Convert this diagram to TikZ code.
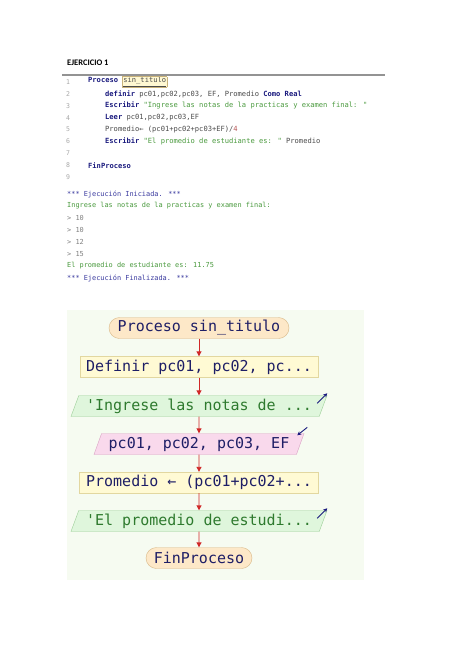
\documentclass[tikz,border=0pt]{standalone}
\usepackage{fontspec}
\newfontfamily\codefont{DejaVu Sans Mono}
\newfontfamily\headfont{Carlito}
\usetikzlibrary{shapes.geometric, arrows.meta, positioning}

\definecolor{kwblue}{HTML}{1A1A7E}
\definecolor{strgreen}{HTML}{4A9A3E}
\definecolor{idgray}{HTML}{4A4A4A}
\definecolor{numgray}{HTML}{A8A8A8}
\definecolor{numred}{HTML}{B85A5A}
\definecolor{runblue}{HTML}{3C3CA0}
\definecolor{boxtan}{HTML}{C8B27A}
\definecolor{boxyellow}{HTML}{FFF8D2}
\definecolor{bgflow}{HTML}{F6FBF1}
\definecolor{termfill}{HTML}{FDE8C8}
\definecolor{termdraw}{HTML}{D8B887}
\definecolor{procfill}{HTML}{FFFAD4}
\definecolor{procdraw}{HTML}{E2D7A0}
\definecolor{outfill}{HTML}{DFF6DC}
\definecolor{outdraw}{HTML}{9CCF98}
\definecolor{infill}{HTML}{F9D9EC}
\definecolor{indraw}{HTML}{D9A3C4}
\definecolor{flowred}{HTML}{D02828}
\definecolor{flowtext}{HTML}{1E1E66}
\definecolor{flowgreen}{HTML}{2E7A2E}

\tikzset{
  codeline/.style={anchor=west, inner sep=0pt, text=idgray,
    font=\codefont\fontsize{7.1}{8}\selectfont},
  linenum/.style={anchor=west, inner sep=0pt, text=numgray,
    font=\codefont\fontsize{6.5}{8}\selectfont},
  runline/.style={anchor=west, inner sep=0pt,
    font=\codefont\fontsize{6.9}{8}\selectfont},
  flownode/.style={inner sep=0pt, text=flowtext,
    font=\codefont\fontsize{15}{18}\selectfont},
  term/.style={flownode, draw=termdraw, fill=termfill, rounded corners=10.5pt,
    minimum height=21pt},
  procbox/.style={flownode, draw=procdraw, fill=procfill, minimum height=21pt},
  iobox/.style={flownode, shape=trapezium, trapezium left angle=62,
    trapezium right angle=118, trapezium stretches body, minimum height=21pt},
  outbox/.style={iobox, draw=outdraw, fill=outfill, text=flowgreen},
  inbox/.style={iobox, draw=indraw, fill=infill},
  flecha/.style={draw=flowred, line width=0.9pt, -{Triangle[length=5pt,width=5pt]}},
  ioarrow/.style={draw=kwblue, line width=0.9pt, -{Stealth[length=4pt,width=4pt]}}
}

\newcommand{\kw}[1]{\textbf{\color{kwblue}#1}}
\newcommand{\str}[1]{{\color{strgreen}#1}}

\begin{document}
\begin{tikzpicture}[x=1pt, y=-1pt]
\useasboundingbox[fill=white] (0,0) rectangle (474,670);

% titulo y codigo
\node[anchor=west, inner sep=0pt, font=\headfont\bfseries\fontsize{8.5}{10}\selectfont] (titulo) at (67,63) {EJERCICIO 1};
\draw[color=gray!85, line width=1.2pt] (62,75) -- (385,75);

\foreach \n in {1,...,9}
  \node[linenum] (num\n) at (66,{82+11.9*(\n-1)}) {\n};

\node[codeline] (lin1) at (88,82) {\kw{Proceso} {\setlength{\fboxsep}{0.6pt}\fcolorbox{boxtan}{boxyellow}{\underline{sin\_titulo}}}};
\node[codeline] (lin2) at (105,93.9) {\kw{definir} pc01,pc02,pc03, EF, Promedio \kw{Como Real}};
\node[codeline] (lin3) at (105,105.8) {\kw{Escribir} \str{"Ingrese las notas de la practicas y examen final: "}};
\node[codeline] (lin4) at (105,117.7) {\kw{Leer} pc01,pc02,pc03,EF};
\node[codeline] (lin5) at (105,129.6) {Promedio← (pc01+pc02+pc03+EF)/{\color{numred}4}};
\node[codeline] (lin6) at (105,141.5) {\kw{Escribir} \str{"El promedio de estudiante es: "} Promedio};
\node[codeline] (lin8) at (88,165.3) {\kw{FinProceso}};

% ejecucion
\node[runline, text=runblue] (run1) at (67,194) {*** Ejecución Iniciada. ***};
\node[runline, text=strgreen] (run2) at (67,206) {Ingrese las notas de la practicas y examen final:};
\node[runline, text=gray] (run3) at (67,218) {> 10};
\node[runline, text=gray] (run4) at (67,230) {> 10};
\node[runline, text=gray] (run5) at (67,242) {> 12};
\node[runline, text=gray] (run6) at (67,254) {> 15};
\node[runline, text=strgreen] (run7) at (67,266) {El promedio de estudiante es: 11.75};
\node[runline, text=runblue] (run8) at (67,278) {*** Ejecución Finalizada. ***};

% diagrama de flujo
\fill[bgflow] (67,310) rectangle (364,580);

\node[term, minimum width=180pt] (inicio) at (199,328) {Proceso sin\_titulo};
\node[procbox, minimum width=238pt] (definir) at (199,367) {Definir pc01, pc02, pc...};
\node[outbox, minimum width=256pt] (escribir1) at (199,406) {'Ingrese las notas de ...};
\node[inbox, minimum width=210pt] (leer) at (199,444) {pc01, pc02, pc03, EF};
\node[procbox, minimum width=239pt] (asignar) at (199,482.5) {Promedio ← (pc01+pc02+...};
\node[outbox, minimum width=256pt] (escribir2) at (199,521) {'El promedio de estudi...};
\node[term, minimum width=106pt] (fin) at (199,558) {FinProceso};

\draw[flecha] (inicio) -- (definir);
\draw[flecha] (definir) -- (escribir1);
\draw[flecha] (escribir1) -- (leer);
\draw[flecha] (leer) -- (asignar);
\draw[flecha] (asignar) -- (escribir2);
\draw[flecha] (escribir2) -- (fin);

\draw[ioarrow] ([shift={(-10,8)}]escribir1.top right corner) -- ([shift={(0,-2)}]escribir1.top right corner);
\draw[ioarrow] ([shift={(3,-6)}]leer.top right corner) -- ([shift={(-7,2)}]leer.top right corner);
\draw[ioarrow] ([shift={(-10,8)}]escribir2.top right corner) -- ([shift={(0,-2)}]escribir2.top right corner);
\end{tikzpicture}
\end{document}
